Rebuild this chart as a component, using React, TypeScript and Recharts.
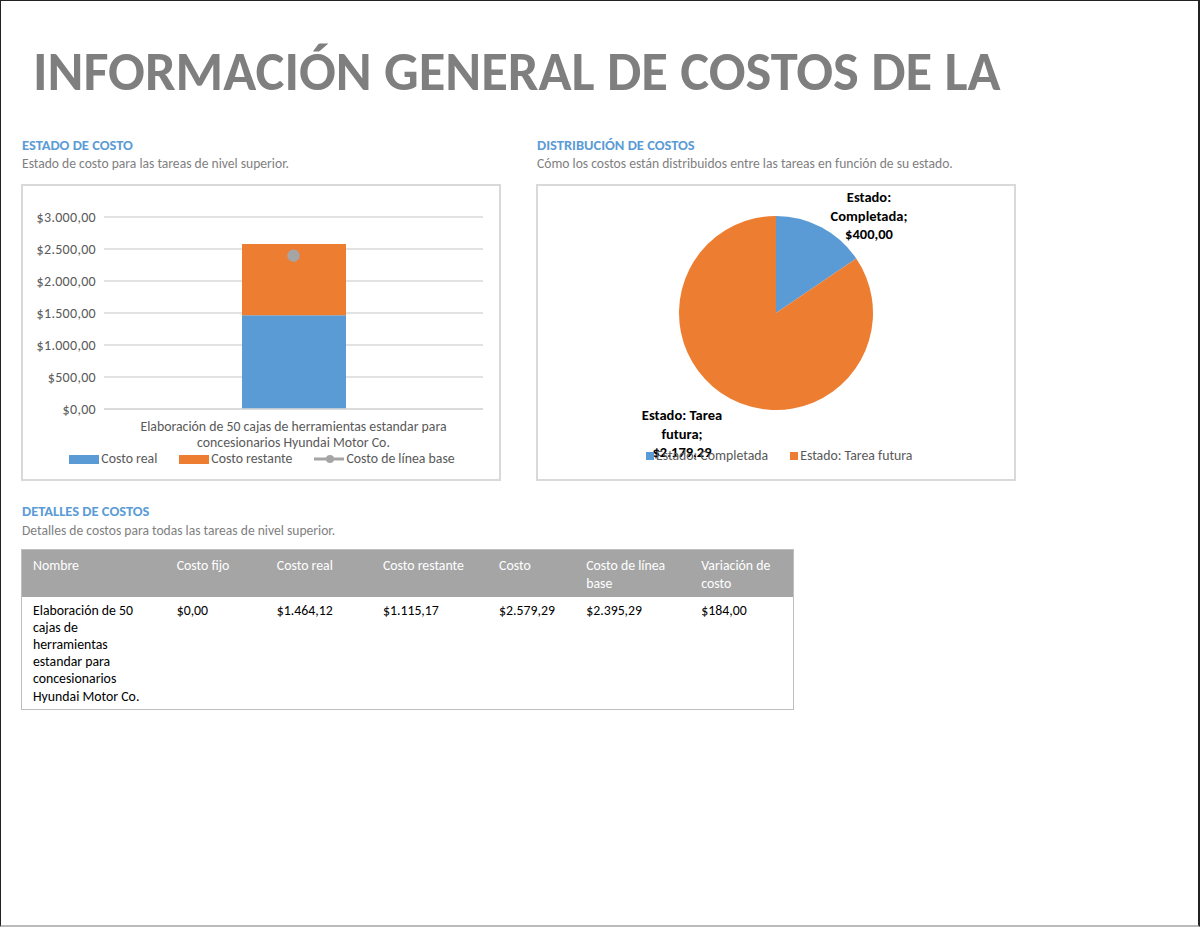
import React from 'react'
import {
  ComposedChart, Bar, Line, XAxis, YAxis, CartesianGrid, Legend,
  PieChart, Pie, Cell,
} from 'recharts'

const FONT = "Carlito, 'Liberation Sans Narrow', 'Open Sans', sans-serif"

// datos del gráfico de estado de costo
const taskNames = ['Elaboración de 50 cajas de herramientas estandar para concesionarios Hyundai Motor Co.']
const costoReal = [1464.12]
const costoRestante = [1115.17]
const costoLineaBase = [2395.29]
const yTicks = [0, 500, 1000, 1500, 2000, 2500, 3000]

// distribución de costos por estado
const pieLabels = ['Estado: Completada', 'Estado: Tarea futura']
const pieValues = [400, 2179.29]
const pieColors = ['#5B9BD5', '#ED7D31']

// tabla de detalles
const tableHeaders = ['Nombre', 'Costo fijo', 'Costo real', 'Costo restante', 'Costo', 'Costo de línea base', 'Variación de costo']
const tableRow = ['Elaboración de 50 cajas de herramientas estandar para concesionarios Hyundai Motor Co.', '$0,00', '$1.464,12', '$1.115,17', '$2.579,29', '$2.395,29', '$184,00']
const colWidths = [144, 100, 106, 116, 87, 115, 103]

const barData = taskNames.map((name, i) => ({
  name,
  real: costoReal[i],
  restante: costoRestante[i],
  base: costoLineaBase[i],
}))

const pieData = pieLabels.map((name, i) => ({ name, value: pieValues[i] }))

const money = (v: number) =>
  '$' + v.toFixed(2).replace('.', ',').replace(/\B(?=(\d{3})+(?!\d))/g, '.')

const sectionTitle: React.CSSProperties = {
  position: 'absolute', color: '#5B9BD5', fontWeight: 700, fontSize: 14.5, fontFamily: FONT, lineHeight: '18px',
}
const sectionSub: React.CSSProperties = {
  position: 'absolute', color: '#7F7F7F', fontSize: 13.6, fontFamily: FONT, lineHeight: '18px',
}
const box: React.CSSProperties = {
  position: 'absolute', border: '2px solid #D9D9D9', boxSizing: 'border-box', background: '#fff',
}
const legendOrder = ['Costo real', 'Costo restante', 'Costo de línea base']

function CategoryTick({ x, y }: any) {
  return (
    <text x={x} y={y} textAnchor="middle" fill="#595959" fontSize={13.8} fontFamily={FONT}>
      <tspan x={x} dy={14}>Elaboración de 50 cajas de herramientas estandar para</tspan>
      <tspan x={x} dy={16}>concesionarios Hyundai Motor Co.</tspan>
    </text>
  )
}

function BarLegend({ payload }: any) {
  const items = [...(payload || [])].sort((a: any, b: any) => legendOrder.indexOf(a.value) - legendOrder.indexOf(b.value))
  return (
    <div style={{ display: 'flex', justifyContent: 'center', fontFamily: FONT, fontSize: 13.8, color: '#595959', marginLeft: 40, marginTop: 2, lineHeight: '16px' }}>
      {items.map((p: any) => (
        <span key={p.value} style={{ display: 'flex', alignItems: 'center', gap: 2 }}>
          {p.type === 'line' ? (
            <svg width={30} height={10}>
              <line x1={0} y1={5} x2={30} y2={5} stroke="#A5A5A5" strokeWidth={3} />
              <circle cx={16} cy={5} r={4} fill="#A5A5A5" />
            </svg>
          ) : (
            <span style={{ width: 30, height: 9, background: p.color, display: 'inline-block' }} />
          )}
          <span style={{ marginRight: 22 }}>{p.value}</span>
        </span>
      ))}
    </div>
  )
}

function PieLabel({ cx, cy, index, value }: any) {
  const pos = index === 0 ? { x: cx + 93, y: cy - 111 } : { x: cx - 94, y: cy + 107 }
  const lines = index === 0 ? ['Estado:', 'Completada;', money(value)] : ['Estado: Tarea', 'futura;', money(value)]
  return (
    <text x={pos.x} y={pos.y} textAnchor="middle" fill="#000" fontWeight={700} fontSize={14.5} fontFamily={FONT}>
      {lines.map((l, i) => (
        <tspan key={i} x={pos.x} dy={i === 0 ? 0 : 18.5}>{l}</tspan>
      ))}
    </text>
  )
}

function PieLegend() {
  return (
    <div style={{ position: 'absolute', left: 108, top: 262, display: 'flex', fontFamily: FONT, fontSize: 13.8, color: '#595959', lineHeight: '16px' }}>
      {pieLabels.map((l, i) => (
        <span key={l} style={{ display: 'flex', alignItems: 'center', marginRight: 22 }}>
          <span style={{ width: 8, height: 8, background: pieColors[i], display: 'inline-block', marginRight: 2 }} />
          {l}
        </span>
      ))}
    </div>
  )
}

export default function App() {
  return (
    <div style={{ position: 'absolute', left: 0, top: 0, width: 1200, height: 927, background: '#fff', fontFamily: FONT, overflow: 'hidden' }}>
      <div style={{ position: 'absolute', left: 33, top: 44, fontSize: 54.5, lineHeight: '55px', fontWeight: 700, color: '#7F7F7F', fontFamily: FONT, whiteSpace: 'nowrap' }}>
        INFORMACIÓN GENERAL DE COSTOS DE LA
      </div>

      <div style={{ ...sectionTitle, left: 22, top: 136 }}>ESTADO DE COSTO</div>
      <div style={{ ...sectionSub, left: 22, top: 155 }}>Estado de costo para las tareas de nivel superior.</div>

      <div style={{ ...box, left: 21, top: 184, width: 480, height: 297 }}>
        <ComposedChart width={476} height={293} data={barData} margin={{ top: 31, right: 16, left: 0, bottom: 6 }}>
          <CartesianGrid vertical={false} stroke="#D9D9D9" strokeWidth={1.5} />
          <XAxis dataKey="name" axisLine={{ stroke: '#D9D9D9', strokeWidth: 1.5 }} tickLine={false} height={40} tick={<CategoryTick />} interval={0} />
          <YAxis
            domain={[0, 3000]}
            ticks={yTicks}
            width={81}
            axisLine={false}
            tickLine={false}
            tick={{ fill: '#595959', fontSize: 14, fontFamily: FONT, letterSpacing: 0.3 }}
            tickFormatter={(v: number) => money(v)}
          />
          <Legend verticalAlign="bottom" height={24} content={<BarLegend />} />
          <Bar dataKey="real" name="Costo real" stackId="a" fill="#5B9BD5" barSize={104} isAnimationActive={false} legendType="rect" />
          <Bar dataKey="restante" name="Costo restante" stackId="a" fill="#ED7D31" barSize={104} isAnimationActive={false} legendType="rect" />
          <Line dataKey="base" name="Costo de línea base" stroke="#A5A5A5" strokeWidth={2.5} dot={{ r: 5, fill: '#A5A5A5', stroke: '#A5A5A5' }} isAnimationActive={false} legendType="line" />
        </ComposedChart>
      </div>

      <div style={{ ...sectionTitle, left: 537, top: 136 }}>DISTRIBUCIÓN DE COSTOS</div>
      <div style={{ ...sectionSub, left: 537, top: 155 }}>Cómo los costos están distribuidos entre las tareas en función de su estado.</div>

      <div style={{ ...box, left: 536, top: 184, width: 480, height: 297 }}>
        <PieChart width={476} height={293}>
          <Pie
            data={pieData}
            dataKey="value"
            nameKey="name"
            cx={233}
            cy={122}
            outerRadius={97}
            startAngle={90}
            endAngle={-270}
            stroke="none"
            label={<PieLabel />}
            labelLine={false}
            isAnimationActive={false}
          >
            {pieData.map((d, i) => (
              <Cell key={d.name} fill={pieColors[i]} />
            ))}
          </Pie>
        </PieChart>
        <PieLegend />
      </div>

      <div style={{ ...sectionTitle, left: 22, top: 502 }}>DETALLES DE COSTOS</div>
      <div style={{ ...sectionSub, left: 22, top: 522 }}>Detalles de costos para todas las tareas de nivel superior.</div>

      <table style={{ position: 'absolute', left: 21, top: 549, width: 773, borderCollapse: 'collapse', border: '1.5px solid #BFBFBF', fontFamily: FONT, tableLayout: 'fixed' }}>
        <colgroup>
          {colWidths.map((w, i) => <col key={i} style={{ width: w }} />)}
        </colgroup>
        <thead>
          <tr style={{ background: '#A5A5A5', height: 47 }}>
            {tableHeaders.map((h) => (
              <th key={h} style={{ color: '#fff', fontWeight: 400, fontSize: 13.8, lineHeight: '18px', textAlign: 'left', verticalAlign: 'top', padding: '7px 8px 2px 11px' }}>{h}</th>
            ))}
          </tr>
        </thead>
        <tbody>
          <tr style={{ height: 110 }}>
            {tableRow.map((c, i) => (
              <td key={i} style={{ color: '#000', fontSize: 13.8, lineHeight: '17.2px', verticalAlign: 'top', padding: '5px 8px 4px 11px', paddingRight: i === 0 ? 22 : 8 }}>{c}</td>
            ))}
          </tr>
        </tbody>
      </table>

      <div style={{ position: 'absolute', left: 0, top: 0, width: 1200, height: 927, boxSizing: 'border-box', borderTop: '1.5px solid #222', borderLeft: '1.5px solid #222', borderRight: '2px solid #222', borderBottom: '2px solid #bbb', pointerEvents: 'none' }} />
    </div>
  )
}
